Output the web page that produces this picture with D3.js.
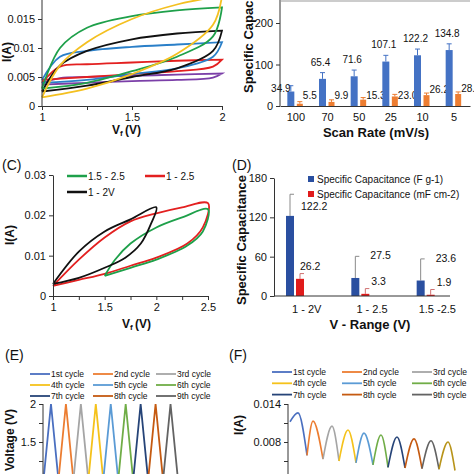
<!DOCTYPE html><html><head><meta charset="utf-8"><script src="https://d3js.org/d3.v7.min.js"></script>
<style>body{margin:0;background:#fff}text{font-family:"Liberation Sans",Arial,sans-serif}</style></head><body>
<svg id="s" width="474" height="474"></svg>
<script>
// ---------- DATA ----------
const aV=[1,1.1,1.25,1.5,1.75,2];
const aLowV=[2,1.95,1.75,1.5,1.25,1];
const aColors=["#7b3fa8","#e32020","#2a7fc8","#111111","#1ea04a","#f4c020"];
const aUpper=[[0.004,0.0048,0.005,0.0052,0.0054,0.0056],[0.004,0.0068,0.0072,0.0075,0.0078,0.008],[0.0045,0.0085,0.0095,0.0102,0.0106,0.011],[0.0025,0.007,0.0095,0.0115,0.0125,0.013],[0.003,0.01,0.0135,0.0155,0.0165,0.017],[0.0015,0.007,0.011,0.015,0.0175,0.019]];
const aLower=[[0.0056,0.0049,0.0045,0.0043,0.004,0.0037],[0.008,0.0068,0.006,0.0055,0.005,0.0045],[0.011,0.0085,0.0065,0.0055,0.0045,0.004],[0.013,0.0095,0.0065,0.005,0.0035,0.0025],[0.017,0.012,0.0085,0.006,0.004,0.003],[0.019,0.014,0.009,0.0055,0.003,0.0015]];
const bCats=["100","70","50","25","10","5"];
const bBlue=[34.9,65.4,71.6,107.1,122.2,134.8];
const bBlueErr=[14,15,15,15,15,15];
const bOrange=[5.5,9.9,15.3,23.0,26.2,28.9];
const bOrangeErr=[5,5,5,5,5,5];
const bTicks=[0,100,200];
const cNames=["1.5 - 2.5","1 - 2.5","1 - 2V"];
const cColors=["#1ea04a","#e32020","#111111"];
const cLoops=[
 [[1.5,0.005],[1.6,0.009],[1.75,0.013],[2,0.017],[2.25,0.0195],[2.5,0.0215],[2.45,0.016],[2.3,0.0125],[2,0.009],[1.75,0.007],[1.5,0.005]],
 [[1,0.0025],[1.25,0.009],[1.5,0.0145],[1.75,0.0185],[2,0.0205],[2.25,0.022],[2.5,0.023],[2.45,0.017],[2.3,0.013],[2,0.0095],[1.75,0.0075],[1.5,0.0055],[1.25,0.004],[1,0.0025]],
 [[1,0.003],[1.25,0.011],[1.5,0.016],[1.75,0.019],[2,0.022],[1.95,0.018],[1.85,0.013],[1.7,0.0095],[1.5,0.007],[1.25,0.0045],[1,0.003]]];
const cDrawOrder=[1,0,2];
const dCats=["1 - 2V","1 - 2.5","1.5 -2.5"];
const dBlue=[122.2,27.5,23.6];
const dBlueErr=[33,33,33];
const dRed=[26.2,3.3,1.9];
const dRedErr=[8,8,8];
const dTicks=[0,60,120,180];
const dLegend=["Specific Capacitance (F g-1)","Specific Capacitance  (mF cm-2)"];
const cycleNames=["1st cycle","2nd cycle","3rd cycle","4th cycle","5th cycle","6th cycle","7th cycle","8th cycle","9th cycle"];
const cycleColors=["#4a6fc0","#ec7d31","#a5a5a5","#f5c21b","#5b9bd5","#70ad47","#264478","#c55a11","#636363","#b8941a"];
const eT=[0,7.5,15,22.5,30,37.5,45,52.5,60,67.5,75,82.5,90,97.5,105,112.5,120,127.5,135];
const eV=[1,2,1,2,1,2,1,2,1,2,1,2,1,2,1,2,1,2,1];
const fT=[0,8,17,23,33,42,49,58,66,74,83,91,98,107,115,124,132,141,149,158,165];
const fI=[0.0112,0.0126,0.0059,0.0113,0.0053,0.0105,0.005,0.0099,0.0047,0.0094,0.0044,0.0091,0.004,0.0088,0.0039,0.0085,0.0038,0.0082,0.0037,0.008,0.0035];

// ---------- DRAW ----------
const svg=d3.select("#s");
function txt(x,y,t,o={}){const e=svg.append("text").attr("x",x).attr("y",y).text(t).attr("font-size",o.fs||11).attr("fill","#111").attr("text-anchor",o.a||"start");if(o.b)e.attr("font-weight","bold");if(o.r)e.attr("transform",`rotate(-90,${x},${y})`);return e;}
function axisStyle(g){g.selectAll("path,line").attr("stroke","#333");g.selectAll("text").attr("font-size",11).attr("fill","#111").attr("font-family","Liberation Sans, Arial");}
const defs=svg.append("defs");
function clip(id,x,y,w,h){defs.append("clipPath").attr("id",id).append("rect").attr("x",x).attr("y",y).attr("width",w).attr("height",h);}

// Panel A
{const x=d3.scaleLinear().domain([1,2]).range([42,222]);const y=d3.scaleLinear().domain([0,0.015]).range([106,19]);
clip("ca",40,0,200,110);
const g=svg.append("g").attr("clip-path","url(#ca)");
const line=d3.line().x(d=>x(d[0])).y(d=>y(d[1])).curve(d3.curveCatmullRom);
aUpper.forEach((u,i)=>{const pts=aV.map((v,j)=>[v,u[j]]).concat(aLowV.map((v,j)=>[v,aLower[i][j]]));
 g.append("path").attr("d",line(pts)).attr("fill","none").attr("stroke",aColors[i]).attr("stroke-width",1.8);});
svg.append("g").attr("transform","translate(0,106)").call(d3.axisBottom(x).tickValues([1,1.25,1.5,1.75,2]).tickFormat(d=>d%0.5===0?d:"").tickSize(4).tickSizeOuter(0)).call(axisStyle);
svg.append("g").attr("transform","translate(42,0)").call(d3.axisLeft(y).tickValues([0,0.005,0.01,0.015]).tickFormat(d=>d===0?"0":d).tickSize(4).tickSizeOuter(0)).call(axisStyle).select(".domain").attr("d","M0,0V106");
txt(120,134,"V",{b:1,fs:12,a:"end"});txt(120,136,"f",{b:1,fs:8});txt(125,134,"(V)",{b:1,fs:12});
txt(11,52,"I(A)",{b:1,fs:12,r:1,a:"middle"});}

// Panel B
{const xb=d3.scaleBand().domain(bCats).range([280,470]).padding(0);const y=d3.scaleLinear().domain([0,200]).range([106,23]);
const c=d=>xb(d)+xb.bandwidth()/2;
bCats.forEach((k,i)=>{
 const bx=c(k)-5, ox=c(k)+4;
 svg.append("line").attr("x1",bx).attr("x2",bx).attr("y1",y(bBlue[i])).attr("y2",y(bBlue[i]+bBlueErr[i])).attr("stroke","#4472c4");
 svg.append("line").attr("x1",bx-2.5).attr("x2",bx+2.5).attr("y1",y(bBlue[i]+bBlueErr[i])).attr("y2",y(bBlue[i]+bBlueErr[i])).attr("stroke","#4472c4");
 svg.append("rect").attr("x",bx-3.5).attr("width",7).attr("y",y(bBlue[i])).attr("height",y(0)-y(bBlue[i])).attr("fill","#4472c4");
 svg.append("line").attr("x1",ox).attr("x2",ox).attr("y1",y(bOrange[i])).attr("y2",y(bOrange[i]+bOrangeErr[i])).attr("stroke","#ed7d31");
 svg.append("line").attr("x1",ox-2.5).attr("x2",ox+2.5).attr("y1",y(bOrange[i]+bOrangeErr[i])).attr("y2",y(bOrange[i]+bOrangeErr[i])).attr("stroke","#ed7d31");
 svg.append("rect").attr("x",ox-3).attr("width",6).attr("y",y(bOrange[i])).attr("height",y(0)-y(bOrange[i])).attr("fill","#ed7d31");
 txt(i===0?bx-10:bx-2,y(bBlue[i]+bBlueErr[i])-(i===0?-6:7),bBlue[i].toFixed(1),{a:"middle",fs:10});
 txt(ox+3,y(bOrange[i])>96?99:y(bOrange[i])-2,bOrange[i].toFixed(1),{fs:10});});
svg.append("g").attr("transform","translate(0,106)").call(d3.axisBottom(xb).tickSize(0).tickPadding(7)).call(axisStyle);
svg.append("g").attr("transform","translate(280,0)").call(d3.axisLeft(y).tickValues(bTicks).tickSize(4).tickSizeOuter(0)).call(axisStyle).select(".domain").attr("d","M0,0V106");
svg.append("line").attr("x1",280).attr("x2",470).attr("y1",1).attr("y2",1).attr("stroke","#999");
txt(376,137,"Scan Rate (mV/s)",{b:1,fs:13,a:"middle"});
txt(253,93,"Specific Capacitance",{b:1,fs:13,r:1,a:"start"});}

txt(2,170,"(C)",{fs:14});txt(232,170,"(D)",{fs:14});

// Panel C
{const x=d3.scaleLinear().domain([1,2.5]).range([53,208]);const y=d3.scaleLinear().domain([0,0.03]).range([296,175]);
const line=d3.line().x(d=>x(d[0])).y(d=>y(d[1])).curve(d3.curveCatmullRom);
cDrawOrder.forEach(i=>svg.append("path").attr("d",line(cLoops[i])).attr("fill","none").attr("stroke",cColors[i]).attr("stroke-width",1.8));
svg.append("g").attr("transform","translate(0,296)").call(d3.axisBottom(x).tickValues([1,1.25,1.5,1.75,2,2.25,2.5]).tickFormat(d=>d%0.5===0?d:"").tickSize(4).tickSizeOuter(0)).call(axisStyle);
svg.append("g").attr("transform","translate(53,0)").call(d3.axisLeft(y).tickValues([0,0.01,0.02,0.03]).tickFormat(d=>d===0?"0":d).tickSize(4).tickSizeOuter(0)).call(axisStyle);
[[67,176],[145,176],[67,192]].forEach((p,i)=>{svg.append("line").attr("x1",p[0]).attr("x2",p[0]+20).attr("y1",p[1]).attr("y2",p[1]).attr("stroke",cColors[i]).attr("stroke-width",2.5);txt(p[0]+21,p[1]+4,cNames[i],{fs:10});});
txt(130,328,"V",{b:1,fs:12,a:"end"});txt(130,330,"f",{b:1,fs:8});txt(135,328,"(V)",{b:1,fs:12});
txt(14,235,"I(A)",{b:1,fs:12,r:1,a:"middle"});}

// Panel D
{const xb=d3.scaleBand().domain(dCats).range([274,470]).padding(0);const y=d3.scaleLinear().domain([0,180]).range([296,178]);
const c=d=>xb(d)+26;
dCats.forEach((k,i)=>{const bx=c(k)-10, rx=c(k);
 [[bx,dBlue[i],dBlueErr[i],"#2a4fa0","#8a8a8a"],[rx,dRed[i],dRedErr[i],"#e01b1b","#d07070"]].forEach(([xx,v,e,col,ec])=>{
  svg.append("line").attr("x1",xx).attr("x2",xx).attr("y1",y(v)).attr("y2",y(v+e)).attr("stroke",ec);
  svg.append("line").attr("x1",xx).attr("x2",xx+4).attr("y1",y(v+e)).attr("y2",y(v+e)).attr("stroke",ec);
  svg.append("rect").attr("x",xx-4).attr("width",8).attr("y",y(v)).attr("height",y(0)-y(v)).attr("fill",col);});
 txt(bx+(i===0?11:15),i===0?y(dBlue[i])-6:y(dBlue[i]+dBlueErr[i])+3,dBlue[i].toFixed(1),{fs:10.5});
 txt(rx+(i===0?0:6),y(dRed[i]+dRedErr[i])-4,dRed[i].toFixed(1),{fs:10.5});});
svg.append("g").attr("transform","translate(0,296)").call(d3.axisBottom(xb).tickSize(0).tickPadding(9)).call(axisStyle).select(".domain").attr("d","M274,0H450");
svg.append("g").attr("transform","translate(274,0)").call(d3.axisLeft(y).tickValues(dTicks).tickSize(4).tickSizeOuter(0)).call(axisStyle);
dLegend.forEach((t,i)=>{svg.append("rect").attr("x",308).attr("y",176+i*15).attr("width",6).attr("height",6).attr("fill",i?"#e01b1b":"#2a4fa0");txt(317,183+i*15,t,{fs:10});});
txt(370,329,"V - Range (V)",{b:1,fs:13,a:"middle"});
txt(246,240,"Specific Capacitance",{b:1,fs:13,r:1,a:"middle"});}

txt(5,360,"(E)",{fs:14});txt(229,360,"(F)",{fs:14});
function legend(x0,y0,dx,dy,lw){cycleNames.forEach((n,i)=>{const x=x0+(i%3)*dx,y=y0+Math.floor(i/3)*dy;
 svg.append("line").attr("x1",x).attr("x2",x+lw).attr("y1",y).attr("y2",y).attr("stroke",cycleColors[i]).attr("stroke-width",1.8);
 txt(x+lw+1,y+3,n,{fs:8.5});});}
legend(30,374,63,11,20);legend(272,372,70,11.3,20);

// Panel E
{const x=d3.scaleLinear().domain([0,135]).range([43.5,178]);const y=d3.scaleLinear().domain([1.5,2]).range([442,404]);
clip("ce",40,398,200,80);const g=svg.append("g").attr("clip-path","url(#ce)");
for(let k=0;k<9;k++){const pts=[0,1,2].map(j=>[eT[2*k+j],eV[2*k+j]]);
 g.append("path").attr("d",d3.line().x(d=>x(d[0])).y(d=>y(d[1]))(pts)).attr("fill","none").attr("stroke",cycleColors[k]).attr("stroke-width",1.8);}
svg.append("g").attr("transform","translate(43,0)").call(d3.axisLeft(y).tickValues([1.25,1.5,1.75,2]).tickFormat(d=>d%0.5===0?(d===2?"2":d):"").tickSize(4).tickSizeOuter(0)).call(axisStyle).select(".domain").attr("d","M0,404V480");
txt(14,440,"Voltage (V)",{b:1,fs:12,r:1,a:"middle"});}

// Panel F
{const x=d3.scaleLinear().domain([0,165]).range([290,455]);const y=d3.scaleLinear().domain([0.008,0.014]).range([442,404]);
const line=d3.line().x(d=>x(d[0])).y(d=>y(d[1])).curve(d3.curveMonotoneX);
for(let k=0;k<10;k++){const s=k===0?0:2*k, e=Math.min(2*k+2,fT.length-1);const pts=[];for(let j=s;j<=e;j++)pts.push([fT[j],fI[j]]);
 svg.append("path").attr("d",line(pts)).attr("fill","none").attr("stroke",cycleColors[k]).attr("stroke-width",1.6);}
svg.append("g").attr("transform","translate(288,0)").call(d3.axisLeft(y).tickValues([0.005,0.008,0.011,0.014]).tickFormat(d=>(d===0.008||d===0.014)?d:"").tickSize(4).tickSizeOuter(0)).call(axisStyle).select(".domain").attr("d","M0,404V480");
txt(243,425,"I(A)",{b:1,fs:12,r:1,a:"middle"});}
</script></body></html>
